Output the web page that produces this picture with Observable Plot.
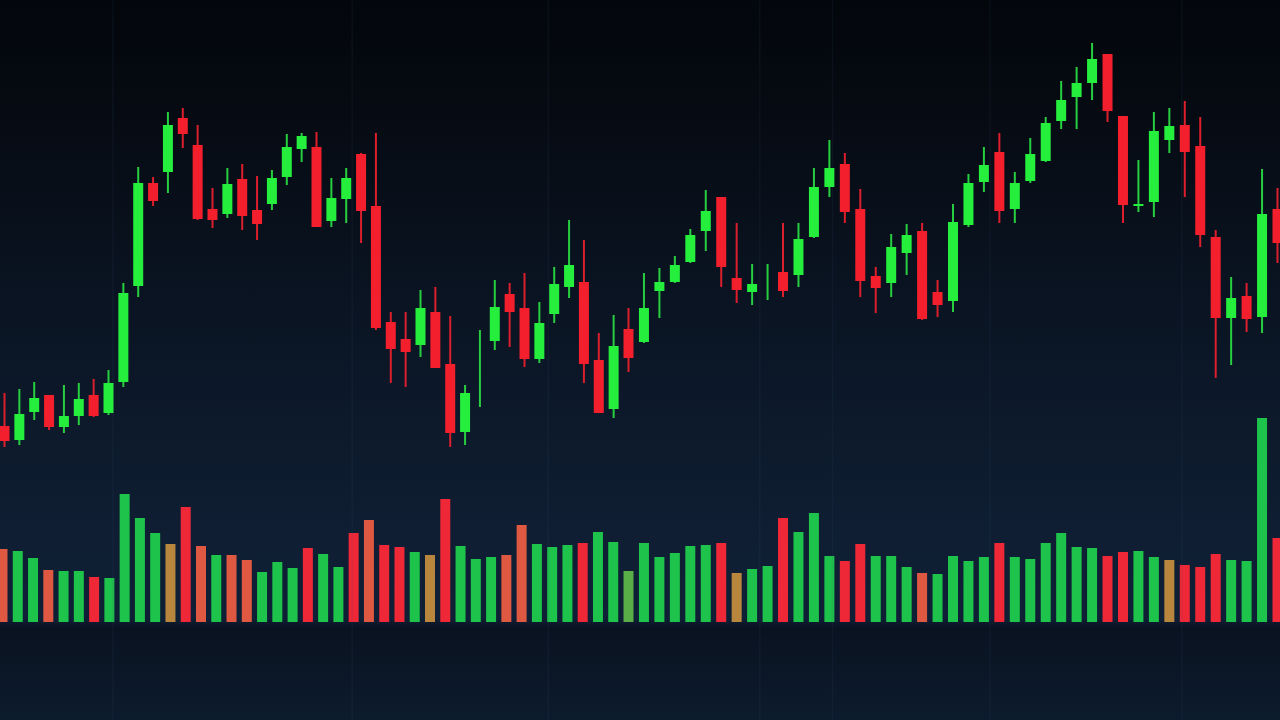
<!DOCTYPE html>
<html>
<head>
<meta charset="utf-8">
<script src="https://cdn.jsdelivr.net/npm/d3@7"></script>
<script src="https://cdn.jsdelivr.net/npm/@observablehq/plot@0.6"></script>
<style>
  html, body { margin: 0; padding: 0; background: #060b13; }
  #chart {
    position: relative; width: 1280px; height: 720px; overflow: hidden;
    background: linear-gradient(to bottom,
      #03060b 0%, #060b13 16%, #0a1422 42%, #0d1a2c 60%, #0f1e33 75%,
      #0f1f35 86%, #091220 87.2%, #0b1625 92%, #0d1b2e 100%);
  }
  #chart svg { position: absolute; left: 0; top: 0; }
</style>
</head>
<body>
<div id="chart"></div>
<script>
// ---- Price data (one entry per candle) ----
const openP = [573,559,587,604,572,583,604,586,617,713,816,827,881,854,790,785,820,789,795,822,
  850,852,778,800,845,793,677,660,654,687,635,567,595,658,705,691,640,685,712,717,
  639,590,670,657,708,717,737,768,802,721,707,714,727,724,762,812,835,790,723,716,
  746,768,707,698,774,817,847,790,818,838,878,902,916,945,883,793,797,859,874,853,
  762,681,703,682,790];
const closeP = [560,587,603,574,585,602,585,618,708,818,800,876,867,782,781,817,785,777,823,854,
  865,774,803,823,790,673,652,649,693,633,568,608,597,694,689,642,678,717,736,637,
  588,655,643,693,719,736,766,790,734,711,717,716,710,762,814,833,789,720,713,754,
  766,682,696,779,818,836,790,818,847,878,901,918,942,890,796,797,870,875,849,766,
  683,703,682,787,758];
const highP = [607,611,618,605,615,617,621,630,717,833,823,888,892,875,812,832,836,824,830,866,
  867,868,822,832,847,867,688,688,710,713,684,615,670,720,717,727,698,733,780,760,
  667,685,692,727,732,744,771,810,803,777,736,736,777,777,832,860,847,811,733,766,
  776,777,720,796,826,853,867,828,862,883,919,933,957,946,884,840,888,892,899,883,
  770,723,717,831,812];
const lowP = [553,555,580,570,567,575,583,585,613,703,794,807,852,780,772,782,770,760,790,815,
  838,773,773,777,757,670,617,613,643,633,553,555,593,650,653,633,637,677,702,617,
  587,582,628,657,682,717,737,749,713,697,695,700,703,713,762,803,777,703,687,703,
  725,680,683,688,773,808,777,777,817,838,871,871,900,878,777,788,783,847,803,753,
  622,635,668,667,737];

// ---- Volume data (bars along the bottom) ----
const volume = [73,71,64,52,51,51,45,44,128,104,89,78,115,76,67,67,62,50,60,54,
  74,68,55,89,102,77,75,70,67,123,76,63,65,67,97,78,75,77,79,90,80,51,
  79,65,69,76,77,79,49,53,56,104,90,109,66,61,78,66,66,55,49,48,66,61,65,79,
  65,63,79,89,75,74,66,70,71,65,62,57,55,68,62,61,204,84];
const volumeTone = ["s","g","g","s","g","g","r","g","g","g","g","o","r","s","g","s","s","g","g","g",
  "r","g","g","r","s","r","r","g","o","r","g","g","g","s","s","g","g","g","r","g","g","l",
  "g","g","g","g","g","r","o","g","g","r","g","g","g","r","r","g","g","g","s","g","g","g","g",
  "r","g","g","g","g","g","g","r","r","g","g","o","r","r","r","g","g","g","r"];

// faint background grid positions (in candle index units)
const gridCols = [7.3, 23.4, 36.6, 50.5, 55.2, 65.4, 77.8];

const candles = openP.map((o, i) => ({
  i, open: o, close: closeP[i], high: highP[i], low: lowP[i], up: closeP[i] >= o
}));
const vols = volume.map((v, i) => ({i, v, tone: volumeTone[i]}));

const bodyColor = {up: "#25ee3d", down: "#f41f2d"};
const wickColor = {up: "#27cf40", down: "#db1f2c"};
const toneColor = {g: "#1dc34b", r: "#ef2838", s: "#df5841", o: "#b8873d", l: "#5aae48"};

const common = {
  width: 1280, height: 720, marginTop: 0, marginRight: 0, marginLeft: 0,
  style: {background: "transparent", overflow: "visible"}
};

const volPlot = Plot.plot({
  ...common,
  marginBottom: 98,
  x: {type: "linear", domain: [0, 41, 83], range: [2, 628, 1277], axis: null},
  y: {domain: [0, 622], axis: null},
  marks: [
    Plot.ruleX(vols, {x: "i", y1: 0, y2: "v", stroke: d => toneColor[d.tone],
      strokeWidth: 10, strokeLinecap: "butt"})
  ]
});

const pricePlot = Plot.plot({
  ...common,
  marginBottom: 0,
  x: {type: "linear", domain: [0, 42, 84], range: [4, 628, 1277], axis: null},
  y: {domain: [280, 1000], axis: null},
  marks: [
    Plot.ruleX(gridCols, {x: d => d, stroke: "#3a5270", strokeOpacity: 0.12, strokeWidth: 1.5}),
    Plot.ruleX(candles, {x: "i", y1: "low", y2: "high",
      stroke: d => d.up ? wickColor.up : wickColor.down, strokeWidth: 2}),
    Plot.ruleX(candles, {x: "i", y1: "open", y2: "close",
      stroke: d => d.up ? bodyColor.up : bodyColor.down, strokeWidth: 10,
      strokeLinecap: "butt", insetTop: -1, insetBottom: -1})
  ]
});

const root = document.getElementById("chart");
root.appendChild(volPlot);
root.appendChild(pricePlot);
</script>
</body>
</html>
